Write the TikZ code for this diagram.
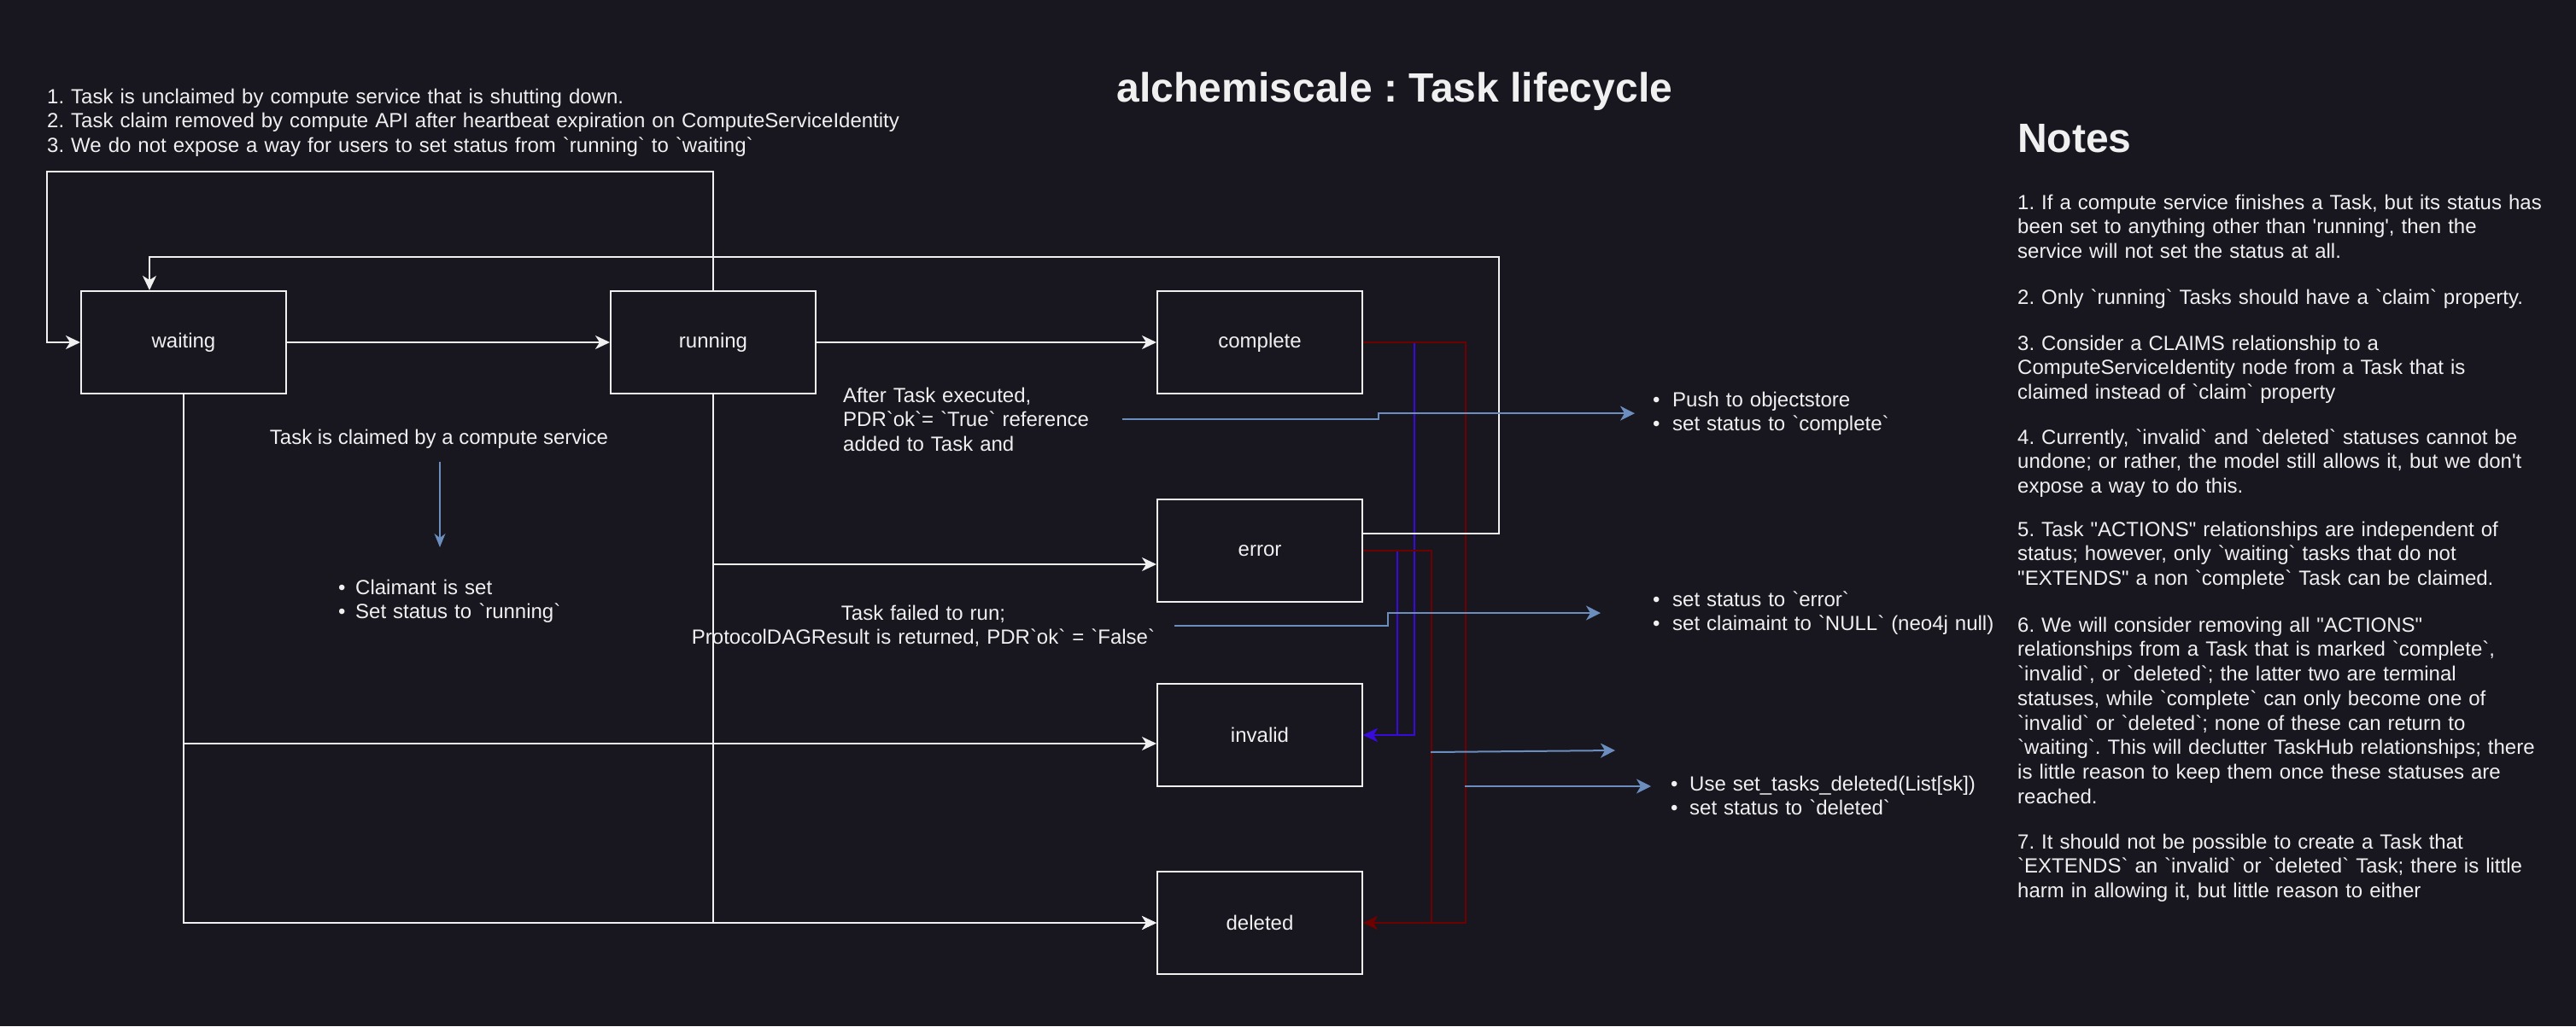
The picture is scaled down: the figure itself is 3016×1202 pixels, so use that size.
\documentclass[tikz,border=0pt]{standalone}
\usepackage{fontspec}
\setmainfont{Liberation Sans}[Ligatures=TeXOff]
\usetikzlibrary{arrows.meta}
\definecolor{bg}{RGB}{24,22,31}
\definecolor{fg}{RGB}{240,240,240}
\definecolor{dred}{RGB}{111,0,0}
\definecolor{vblue}{RGB}{56,10,220}
\definecolor{sblue}{RGB}{108,142,191}
\newcommand\mybul[1]{\makebox[#1][l]{•}}
\frenchspacing
\tikzset{
  state/.style={draw=fg, line width=2pt, fill=bg, minimum width=240pt, minimum height=120pt, inner sep=0pt, text=fg, font=\fontsize{24}{28.75}\selectfont},
  txt/.style={text=fg, font=\fontsize{24}{28.75}\selectfont, inner sep=0pt},
  bigtxt/.style={text=fg, font=\bfseries\fontsize{48}{57.6}\selectfont, inner sep=0pt},
  flow/.style={draw=fg, line width=2pt, -{Stealth[length=17pt,width=16pt,inset=5pt]}},
  redflow/.style={draw=dred, line width=2pt, -{Stealth[length=17pt,width=16pt,inset=5pt]}},
  blueflow/.style={draw=vblue, line width=2pt, -{Stealth[length=17pt,width=16pt,inset=5pt]}},
  sbarrow/.style={draw=sblue, line width=2pt, -{Stealth[length=17pt,width=17pt,inset=5pt]}},
  thinarrow/.style={draw=sblue, line width=1.2pt, -{Stealth[length=16pt,width=13pt,inset=5pt]}},
}
\begin{document}
\begin{tikzpicture}[x=1pt,y=-1pt]
\fill[bg] (0,0) rectangle (3016,1202);
\useasboundingbox (0,0) rectangle (3016,1202);

% title and notes
\node[bigtxt, anchor=base] (title) at (1633,119) {alchemiscale : Task lifecycle};
\node[txt, anchor=base west, text width=1150pt, align=left] (topnote) at (55,121)
 {1. Task is unclaimed by compute service that is shutting down.\\
  2. Task claim removed by compute API after heartbeat expiration on ComputeServiceIdentity\\
  3. We do not expose a way for users to set status from `running` to `waiting`};

\node[bigtxt, anchor=base west] (notes) at (2362,178) {Notes};
\node[txt, anchor=base west, text width=700pt, align=left] (n1) at (2362,245)
 {1. If a compute service finishes a Task, but its status has\\
  been set to anything other than 'running', then the\\
  service will not set the status at all.};
\node[txt, anchor=base west, text width=700pt, align=left] (n2) at (2362,356)
 {2. Only `running` Tasks should have a `claim` property.};
\node[txt, anchor=base west, text width=700pt, align=left] (n3) at (2362,410)
 {3. Consider a CLAIMS relationship to a\\
  ComputeServiceIdentity node from a Task that is\\
  claimed instead of `claim` property};
\node[txt, anchor=base west, text width=700pt, align=left] (n4) at (2362,520)
 {4. Currently, `invalid` and `deleted` statuses cannot be\\
  undone; or rather, the model still allows it, but we don't\\
  expose a way to do this.};
\node[txt, anchor=base west, text width=700pt, align=left] (n5) at (2362,628)
 {5. Task "ACTIONS" relationships are independent of\\
  status; however, only `waiting` tasks that do not\\
  "EXTENDS" a non `complete` Task can be claimed.};
\node[txt, anchor=base west, text width=700pt, align=left] (n6) at (2362,740)
 {6. We will consider removing all "ACTIONS"\\
  relationships from a Task that is marked `complete`,\\
  `invalid`, or `deleted`; the latter two are terminal\\
  statuses, while `complete` can only become one of\\
  `invalid` or `deleted`; none of these can return to\\
  `waiting`. This will declutter TaskHub relationships; there\\
  is little reason to keep them once these statuses are\\
  reached.};
\node[txt, anchor=base west, text width=700pt, align=left] (n7) at (2362,994)
 {7. It should not be possible to create a Task that\\
  `EXTENDS` an `invalid` or `deleted` Task; there is little\\
  harm in allowing it, but little reason to either};

% states
\node[state] (waiting) at (215,401) {waiting};
\node[state] (running) at (835,401) {running};
\node[state] (complete) at (1475,401) {complete};
\node[state] (error) at (1475,645) {error};
\node[state] (invalid) at (1475,861) {invalid};
\node[state] (deleted) at (1475,1081) {deleted};

% annotation texts
\node[txt, anchor=base] (claimed) at (514,520) {Task is claimed by a compute service};
\node[txt, anchor=base west, text width=400pt, align=left] (claimlist) at (396,696)
 {\mybul{20pt}Claimant is set\\ \mybul{20pt}Set status to `running`};
\node[txt, anchor=base west, text width=327pt, align=left] (after) at (987,471)
 {After Task executed,\\PDR`ok`= `True` reference\\added to Task and};
\node[txt, anchor=base, text width=588pt, align=center] (failed) at (1081,726)
 {Task failed to run;\\ProtocolDAGResult is returned, PDR`ok` = `False`};
\node[txt, anchor=base west, inner xsep=21pt, text width=400pt, align=left] (pushlist) at (1914,476)
 {\mybul{23pt}Push to objectstore\\ \mybul{23pt}set status to `complete`};
\node[txt, anchor=base west, inner xsep=61pt, text width=400pt, align=left] (errlist) at (1874,710)
 {\mybul{23pt}set status to `error`\\ \mybul{23pt}set claimaint to `NULL` (neo4j null)};
\node[txt, anchor=base west, inner xsep=23pt, text width=400pt, align=left] (dellist) at (1933,926)
 {\mybul{22pt}Use set\_tasks\_deleted(List[sk])\\ \mybul{22pt}set status to `deleted`};

% white transitions
\draw[flow] (waiting) -- (running);
\draw[flow] (running) -- (complete);
\draw[flow] (running.south) |- (deleted.west);
\coordinate (errin) at ([yshift=-16pt]error.west);
\draw[flow] (running.south |- errin) -- (errin);
\draw[flow] (waiting.south) |- (deleted.west);
\coordinate (invin) at ([yshift=-10pt]invalid.west);
\draw[flow] (waiting.south |- invin) -- (invin);
\coordinate (tl) at (55,201);
\draw[flow] (running.north) |- (tl) |- (waiting.west);

% coloured transitions
\draw[blueflow] (complete.east) -- ++(60,0) |- (invalid.east);
\draw[blueflow] (error.east) -- ++(40,0) |- (invalid.east);
\draw[redflow] (complete.east) -- ++(120,0) |- (deleted.east);
\draw[redflow] (error.east) -- ++(80,0) |- (deleted.east);

\coordinate (tr) at (1755,301);
\draw[flow] ([yshift=20pt]error.east) -| (tr) -| ([xshift=-40pt]waiting.north);

% annotation arrows
\draw[sbarrow] (after.east) -- ++(300,0) |- (pushlist.west);
\draw[sbarrow] (failed.east) -- ++(250,0) |- (errlist.west);
\coordinate (s15) at (1675,881);
\coordinate (e15) at (1891,879);
\draw[sbarrow] (s15) -- (e15);
\coordinate (s16) at (1715,921);
\draw[sbarrow] (s16) -- (s16 -| dellist.west);
\coordinate (c1) at (515,541);
\coordinate (c2) at (515,641);
\draw[thinarrow] (c1) -- (c2);
\end{tikzpicture}
\end{document}
